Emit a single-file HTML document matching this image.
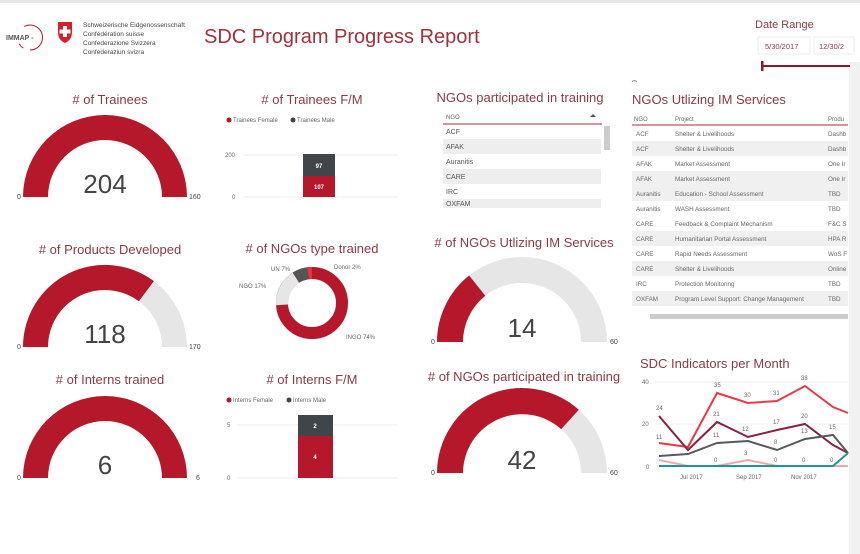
<!DOCTYPE html>
<html><head><meta charset="utf-8"><style>
body{margin:0;background:#fff;}
svg{display:block;font-family:"Liberation Sans",sans-serif;}
.t{fill:#8a3a44;font-size:13px;text-anchor:middle}
.s{fill:#666;font-size:6px}
.r{fill:#555;font-size:7px}
</style></head><body>
<svg width="860" height="554" viewBox="0 0 860 554" xmlns="http://www.w3.org/2000/svg">
<rect width="860" height="554" fill="#fff"/>
<rect x="0" y="0" width="860" height="3" fill="#e6e6e6"/>
<rect x="849" y="62" width="11" height="492" fill="#f1f1f1"/>
<!-- logos -->
<path d="M30 25 A12 12 0 0 1 30 50" fill="none" stroke="#b5172b" stroke-width="1"/>
<path d="M30 25 A12 12 0 0 0 30 50" fill="none" stroke="#b5172b" stroke-width="1" stroke-dasharray="6 20"/>
<text x="6" y="40" font-size="7" fill="#555" font-weight="bold">IMMAP -</text>
<path d="M58 22 h14 v10 q0 8 -7 11 q-7 -3 -7 -11z" fill="#d5202c"/>
<rect x="63" y="26" width="4" height="11" fill="#fff"/><rect x="59.5" y="29.5" width="11" height="4" fill="#fff"/>
<text x="83" y="27" font-size="6.5" fill="#444">Schweizerische Eidgenossenschaft</text>
<text x="83" y="36" font-size="6.5" fill="#444">Confédération suisse</text>
<text x="83" y="45" font-size="6.5" fill="#444">Confederazione Svizzera</text>
<text x="83" y="54" font-size="6.5" fill="#444">Confederaziun svizra</text>
<text x="204" y="43" font-size="20" fill="#a0323c">SDC Program Progress Report</text>
<!-- date range -->
<text x="755" y="28" font-size="11" fill="#8a3a44">Date Range</text>
<rect x="758" y="37" width="52" height="17" fill="#fff" stroke="#eee"/>
<rect x="814" y="37" width="40" height="17" fill="#fff" stroke="#eee"/>
<text x="765" y="49" font-size="7.5" fill="#8a3a44">5/30/2017</text>
<text x="819" y="49" font-size="7.5" fill="#8a3a44">12/30/2</text>
<rect x="762" y="65" width="88" height="2" fill="#8a1a2a"/><rect x="761" y="61" width="2.5" height="10" fill="#8a1a2a"/>
<path d="M632 82 a3 3 0 0 1 5 0" fill="none" stroke="#888"/>

<!-- gauges -->
<g fill="#b5172b">
<path d="M23 197 A82 82 0 0 1 187 197 L162 197 A57 57 0 0 0 48 197Z"/>
<path d="M23 347 A82 82 0 0 1 187 347 L162 347 A57 57 0 0 0 48 347Z" fill="#e6e6e6"/>
<path d="M23 347 A82 82 0 0 1 153.9 281.1 L138.9 301.2 A57 57 0 0 0 48 347Z"/>
<path d="M23 478 A82 82 0 0 1 187 478 L162 478 A57 57 0 0 0 48 478Z"/>
<path d="M437 342 A85 85 0 0 1 607 342 L581 342 A59 59 0 0 0 463 342Z" fill="#e6e6e6"/>
<path d="M437 342 A85 85 0 0 1 469.1 275.5 L485.3 295.8 A59 59 0 0 0 463 342Z"/>
<path d="M437 473 A85 85 0 0 1 607 473 L581 473 A59 59 0 0 0 463 473Z" fill="#e6e6e6"/>
<path d="M437 473 A85 85 0 0 1 578.8 409.8 L561.2 429.1 A59 59 0 0 0 463 473Z"/>
</g>
<g font-size="7" fill="#444"><text x="17" y="199">0</text><text x="189" y="199">160</text>
<text x="17" y="349">0</text><text x="189" y="349">170</text>
<text x="17" y="480">0</text><text x="196" y="480">6</text>
<text x="431" y="344">0</text><text x="610" y="344">60</text>
<text x="431" y="475">0</text><text x="610" y="475">60</text></g>
<g font-size="26" fill="#444" text-anchor="middle">
<text x="105" y="193">204</text><text x="105" y="343">118</text><text x="105" y="474">6</text>
<text x="522" y="337">14</text><text x="522" y="469">42</text></g>
<text class="t" x="110" y="104">#&#160;of Trainees</text>
<text class="t" x="110" y="254">#&#160;of Products Developed</text>
<text class="t" x="110" y="384">#&#160;of Interns trained</text>
<text class="t" x="312" y="104">#&#160;of Trainees F/M</text>
<text class="t" x="312" y="253">#&#160;of NGOs type trained</text>
<text class="t" x="312" y="384">#&#160;of Interns F/M</text>
<text class="t" x="520" y="102">NGOs participated in training</text>
<text class="t" x="524" y="247">#&#160;of NGOs Utlizing IM Services</text>
<text class="t" x="524" y="381">#&#160;of NGOs participated in training</text>
<text class="t" x="632" y="104" style="text-anchor:start">NGOs Utlizing IM Services</text>
<text class="t" x="640" y="368" style="text-anchor:start">SDC Indicators per Month</text>

<!-- trainees F/M -->
<circle cx="229" cy="120" r="2.5" fill="#b5172b"/><text class="s" x="233" y="122">Trainees Female</text>
<circle cx="293" cy="120" r="2.5" fill="#404549"/><text class="s" x="297" y="122">Trainees Male</text>
<line x1="243" y1="155" x2="398" y2="155" stroke="#eee"/><line x1="243" y1="197" x2="398" y2="197" stroke="#eee"/>
<text class="s" x="225" y="157">200</text><text class="s" x="232" y="199">0</text>
<rect x="303" y="154" width="32" height="22" fill="#404549"/><rect x="303" y="176" width="32" height="21" fill="#b5172b"/>
<text x="319" y="168" font-size="6" fill="#fff" text-anchor="middle" font-weight="bold">97</text>
<text x="319" y="189" font-size="6" fill="#fff" text-anchor="middle" font-weight="bold">107</text>
<!-- donut -->
<circle cx="312" cy="303" r="30" fill="none" stroke="#b5172b" stroke-width="12"/>
<circle cx="312" cy="303" r="30" fill="none" stroke="#e6e6e6" stroke-width="12" stroke-dasharray="32 500" transform="rotate(-183.6 312 303)"/>
<circle cx="312" cy="303" r="30" fill="none" stroke="#555" stroke-width="12" stroke-dasharray="13.2 500" transform="rotate(-122.4 312 303)"/>
<circle cx="312" cy="303" r="30" fill="none" stroke="#e8323c" stroke-width="12" stroke-dasharray="3.8 500" transform="rotate(-97.2 312 303)"/>
<g class="s"><text x="271" y="271">UN 7%</text><text x="334" y="269">Donor 2%</text><text x="239" y="288">NGO 17%</text><text x="346" y="339">INGO 74%</text></g>
<!-- interns F/M -->
<circle cx="229" cy="400" r="2.5" fill="#b5172b"/><text class="s" x="233" y="402">Interns Female</text>
<circle cx="289" cy="400" r="2.5" fill="#404549"/><text class="s" x="293" y="402">Interns Male</text>
<line x1="237" y1="425" x2="398" y2="425" stroke="#eee"/><line x1="237" y1="478" x2="398" y2="478" stroke="#eee"/>
<text class="s" x="227" y="427">5</text><text class="s" x="227" y="480">0</text>
<rect x="298" y="415" width="35" height="21" fill="#404549"/><rect x="298" y="436" width="35" height="42" fill="#b5172b"/>
<text x="315" y="428" font-size="6" fill="#fff" text-anchor="middle" font-weight="bold">2</text>
<text x="315" y="459" font-size="6" fill="#fff" text-anchor="middle" font-weight="bold">4</text>
<!-- NGO list -->
<text class="s" x="446" y="119">NGO</text><path d="M590 117 l3 -3 l3 3z" fill="#555"/>
<line x1="443" y1="124" x2="602" y2="124" stroke="#a0323c"/>
<g fill="#eeeeee"><rect x="443" y="139" width="158" height="15"/><rect x="443" y="169" width="158" height="15"/><rect x="443" y="199" width="158" height="9"/></g>
<g class="r"><text x="446" y="134">ACF</text><text x="446" y="149">AFAK</text><text x="446" y="164">Auranitis</text><text x="446" y="179">CARE</text><text x="446" y="194">IRC</text><text x="446" y="206">OXFAM</text></g>
<rect x="604" y="126" width="6" height="24" fill="#ccc"/>
<!-- services table -->
<g class="s" fill="#777"><text x="634" y="121">NGO</text><text x="675" y="121">Project</text><text x="828" y="121">Produ</text></g>
<line x1="632" y1="125" x2="848" y2="125" stroke="#a0323c"/>
<g fill="#f0f0f0"><rect x="632" y="141" width="216" height="15"/><rect x="632" y="171" width="216" height="15"/><rect x="632" y="186" width="216" height="15"/><rect x="632" y="231" width="216" height="15"/><rect x="632" y="261" width="216" height="15"/><rect x="632" y="291" width="216" height="15"/></g>
<g class="s" style="font-size:6.3px">
<text x="636" y="136">ACF</text><text x="675" y="136">Shelter &amp; Livelihoods</text><text x="828" y="136">Dashb</text>
<text x="636" y="151">ACF</text><text x="675" y="151">Shelter &amp; Livelihoods</text><text x="828" y="151">Dashb</text>
<text x="636" y="166">AFAK</text><text x="675" y="166">Market Assessment</text><text x="828" y="166">One Ir</text>
<text x="636" y="181">AFAK</text><text x="675" y="181">Market Assessment</text><text x="828" y="181">One Ir</text>
<text x="636" y="196">Auranitis</text><text x="675" y="196">Education - School Assessment</text><text x="828" y="196">TBD</text>
<text x="636" y="211">Auranitis</text><text x="675" y="211">WASH Assessment</text><text x="828" y="211">TBD</text>
<text x="636" y="226">CARE</text><text x="675" y="226">Feedback &amp; Complaint Mechanism</text><text x="828" y="226">F&amp;C S</text>
<text x="636" y="241">CARE</text><text x="675" y="241">Humanitarian Portal Assessment</text><text x="828" y="241">HPA R</text>
<text x="636" y="256">CARE</text><text x="675" y="256">Rapid Needs Assessment</text><text x="828" y="256">WoS F</text>
<text x="636" y="271">CARE</text><text x="675" y="271">Shelter &amp; Livelihoods</text><text x="828" y="271">Online</text>
<text x="636" y="286">IRC</text><text x="675" y="286">Protection Monitoring</text><text x="828" y="286">TBD</text>
<text x="636" y="301">OXFAM</text><text x="675" y="301">Program Level Support: Change Management</text><text x="828" y="301">TBD</text>
</g>
<rect x="650" y="314" width="198" height="5" fill="#ccc"/>
<!-- line chart -->
<g class="s"><text x="642" y="384">40</text><text x="642" y="426">20</text><text x="646" y="469">0</text>
<text x="680" y="479">Jul 2017</text><text x="736" y="479">Sep 2017</text><text x="791" y="479">Nov 2017</text></g>
<line x1="655" y1="382" x2="848" y2="382" stroke="#f0f0f0"/><line x1="655" y1="424" x2="848" y2="424" stroke="#f0f0f0"/>
<g fill="none" stroke-width="2">
<polyline stroke="#e83a44" points="659,443 688,447 717,393 748,403 777,401 805,386 833,407 848,413"/>
<polyline stroke="#8c2140" points="659,416 688,450 717,422 748,437 777,430 805,424 833,445 848,453"/>
<polyline stroke="#555a5e" points="659,456 688,454 717,443 748,441 777,450 805,439 833,435 848,453"/>
<polyline stroke="#f2a6b0" points="659,460 688,466 717,466 748,460 777,466 805,466 833,466 848,466"/>
<polyline stroke="#1a9a8a" points="659,466 688,466 717,466 748,466 777,466 805,466 833,466 848,453"/>
</g>
<g class="s" fill="#555"><text x="656" y="410">24</text><text x="656" y="439">11</text><text x="714" y="387">35</text><text x="744" y="397">30</text><text x="773" y="395">31</text><text x="801" y="380">38</text>
<text x="713" y="416">21</text><text x="742" y="431">12</text><text x="773" y="424">17</text><text x="801" y="418">20</text><text x="829" y="429">15</text>
<text x="713" y="437">11</text><text x="774" y="444">8</text><text x="801" y="433">13</text>
<text x="714" y="462">0</text><text x="744" y="455">3</text><text x="774" y="462">0</text><text x="802" y="462">0</text><text x="830" y="462">0</text></g>
</svg>
</body></html>
